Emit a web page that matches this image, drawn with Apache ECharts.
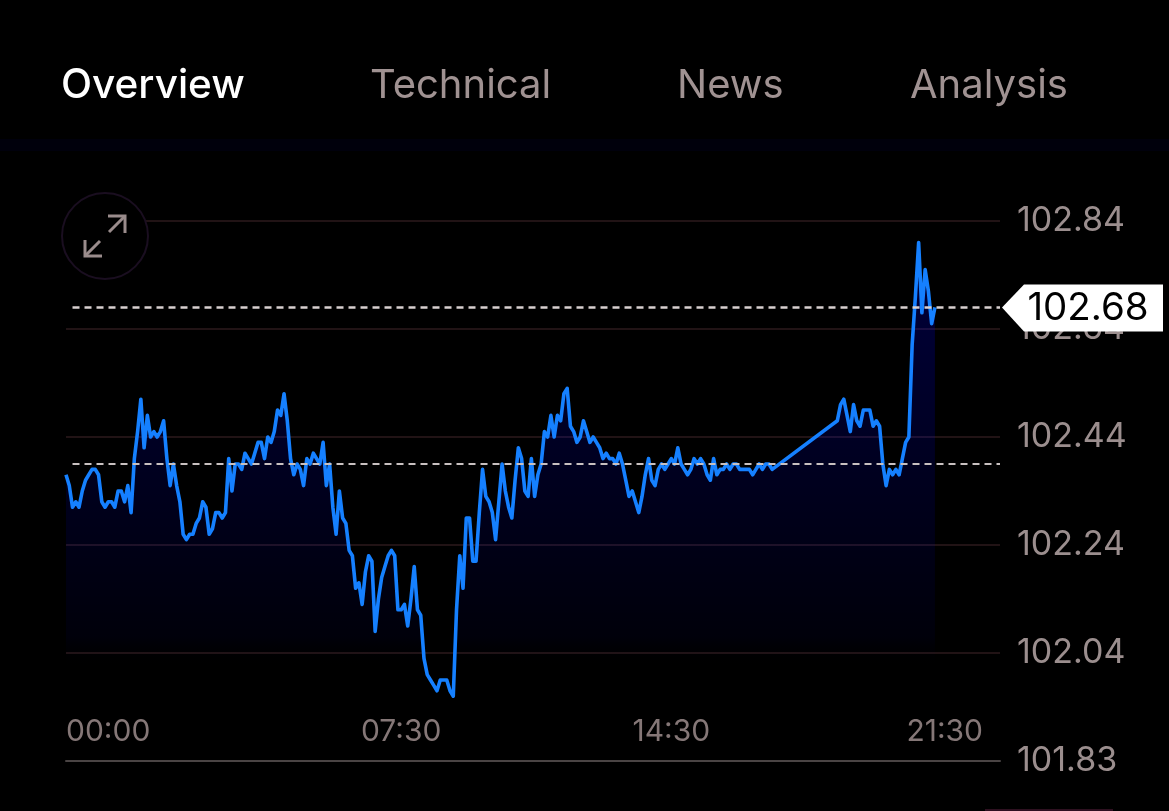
<!DOCTYPE html>
<html>
<head>
<meta charset="utf-8">
<title>Overview chart</title>
<script src="https://cdn.jsdelivr.net/npm/echarts@6/dist/echarts.min.js"></script>
<style>
html,body{margin:0;padding:0;background:#000;}
#main{width:1169px;height:811px;}
</style>
</head>
<body>
<div id="main"></div>
<script type="text/javascript">
var tabLabels = ['Overview', 'Technical', 'News', 'Analysis'];
var yTicks = [101.84, 102.04, 102.24, 102.44, 102.64, 102.84];
var yTickLabels = ['101.83', '102.04', '102.24', '102.44', '102.64', '102.84'];
var lastPrice = 102.68;
var prevClose = 102.39;

// prices before the quiet stretch where no quotes came in
var pricesEarly = [
  102.37,102.35,102.31,102.32,102.31,102.34,102.36,102.37,102.38,102.38,
  102.37,102.32,102.31,102.32,102.32,102.31,102.34,102.34,102.32,102.35,
  102.30,102.40,102.45,102.51,102.42,102.48,102.44,102.45,102.44,102.45,
  102.47,102.40,102.35,102.39,102.35,102.32,102.26,102.25,102.26,102.26,
  102.28,102.29,102.32,102.31,102.26,102.27,102.30,102.30,102.29,102.30,
  102.40,102.34,102.39,102.39,102.38,102.41,102.40,102.39,102.41,102.43,
  102.43,102.40,102.44,102.43,102.45,102.49,102.48,102.52,102.47,102.40,
  102.37,102.39,102.38,102.35,102.40,102.39,102.41,102.40,102.39,102.43,
  102.35,102.39,102.31,102.26,102.34,102.29,102.28,102.23,
  102.22,102.16,102.17,102.13,102.19,102.22,102.21,102.08,102.14,102.18,
  102.20,102.22,102.23,102.22,102.12,102.12,102.13,102.09,102.14,102.20,
  102.12,102.11,102.03,102.00,101.99,101.98,101.97,101.99,101.99,101.99,
  101.97,101.96,102.12,102.22,102.16,102.29,102.29,102.21,102.21,102.30,
  102.38,102.33,102.32,102.30,102.25,102.32,102.39,102.34,102.31,102.29,
  102.36,102.42,102.40,102.34,102.33,102.40,102.33,102.37,102.39,102.45,
  102.44,102.48,102.44,102.48,102.47,102.52,102.53,102.46,102.45,102.43,
  102.44,102.47,102.45,102.43,102.44,102.43,102.42,102.40,102.41,102.40,
  102.40,102.39,102.41,102.39,102.36,102.33,102.34,102.32,102.30,102.33,
  102.37,102.40,102.36,102.35,102.38,102.39,102.38,102.39,102.40,102.39,
  102.42,102.39,102.38,102.37,102.38,102.40,102.39,102.40,102.39,102.37,
  102.36,102.40,102.37,102.38,102.38,102.39,102.38,102.39,102.39,102.38,
  102.38,102.38,102.38,102.37,102.38,102.39,102.38,102.39,102.39,102.38
];
var gapSteps = 19;
var pricesLate = [
  102.47,102.50,102.51,102.48,102.45,102.50,102.47,102.46,102.49,102.49,
  102.49,102.46,102.47,102.46,102.39,102.35,102.38,102.37,102.38,102.37,
  102.40,102.43,102.44,102.61,102.70,102.80,102.67,102.75,102.71,102.65,
  102.68
];
var trailingSteps = 20;
var timeLabels = {0: '00:00', 103: '07:30', 186: '14:30', 270: '21:30'};

var prices = pricesEarly.concat(new Array(gapSteps).fill(null), pricesLate);
var categories = [];
for (var i = 0; i < prices.length + trailingSteps; i++) {
  categories.push(timeLabels[i] || '');
}
var seriesData = prices.concat(new Array(trailingSteps).fill(null));
var lastIdx = categories.length - 1;

var FONT = 'Inter';
var myChart = echarts.init(document.getElementById('main'));

var option = {
  backgroundColor: '#000',
  animation: false,
  grid: {left: 66, right: 169, top: 221, bottom: 50},
  xAxis: {
    type: 'category',
    boundaryGap: false,
    data: categories,
    axisLine: {show: true, lineStyle: {color: '#4a4444', width: 2}},
    axisTick: {show: false},
    splitLine: {show: false},
    axisLabel: {
      inside: true,
      margin: 14,
      interval: function (idx, val) { return val !== ''; },
      alignMinLabel: 'left',
      color: '#857777',
      fontFamily: FONT,
      fontSize: 30
    }
  },
  yAxis: {
    type: 'value',
    position: 'right',
    min: 101.84,
    max: 102.84,
    axisLine: {show: false},
    axisTick: {show: false, customValues: yTicks},
    splitLine: {show: true, lineStyle: {color: '#2c1a1c', width: 1.5}},
    axisLabel: {
      customValues: yTicks,
      margin: 17,
      padding: [0, 0, 4, 0],
      color: '#9b8e8e',
      fontFamily: FONT,
      fontSize: 34,
      formatter: function (v) { return yTickLabels[yTicks.indexOf(v)]; }
    }
  },
  series: [{
    type: 'line',
    data: seriesData,
    showSymbol: false,
    connectNulls: true,
    lineStyle: {color: '#1580ff', width: 3.6, join: 'round'},
    areaStyle: {
      color: new echarts.graphic.LinearGradient(0, 0, 0, 1, [
        {offset: 0, color: 'rgba(0,0,255,0.34)'},
        {offset: 0.76, color: 'rgba(0,0,255,0.06)'},
        {offset: 0.82, color: 'rgba(0,0,0,0)'}
      ])
    },
    markLine: {
      silent: true,
      symbol: 'none',
      animation: false,
      label: {show: false},
      data: [
        [{coord: [2, lastPrice], lineStyle: {color: '#d8d0d0', width: 2.5, type: [7, 5]}}, {coord: [lastIdx, lastPrice]}],
        [{coord: [2, prevClose], lineStyle: {color: '#c8c0c0', width: 2, type: [7, 5]}}, {coord: [lastIdx, prevClose]}]
      ]
    }
  }]
};
myChart.setOption(option);

// tabs, expand button and the price tag sit on top of the plot
var tabLeft = [61, 370, 677, 910];
var tabs = tabLabels.map(function (t, i) {
  return {
    type: 'text', x: tabLeft[i], y: 86, z: 10,
    style: {text: t, fontFamily: FONT, fontSize: i === 0 ? 40.5 : 40, fontWeight: i === 0 ? 500 : 400,
      fill: i === 0 ? '#ffffff' : '#a09292', textVerticalAlign: 'middle'}
  };
});
var iconStroke = {stroke: '#9a8c8c', lineWidth: 3, fill: null};
var tagY = myChart.convertToPixel({yAxisIndex: 0}, lastPrice);

myChart.setOption({
  graphic: tabs.concat([
    {type: 'rect', z: 1, shape: {x: 0, y: 139, width: 1169, height: 12}, style: {fill: '#00000c'}},
    {type: 'rect', z: 1, shape: {x: 985, y: 809, width: 128, height: 2}, style: {fill: '#2e1020'}},
    {type: 'circle', z: 10, shape: {cx: 105, cy: 236, r: 43}, style: {fill: '#000', stroke: '#1a0e20', lineWidth: 2}},
    {type: 'polyline', z: 11, shape: {points: [[108, 216], [125, 216], [125, 233]]}, style: iconStroke},
    {type: 'line', z: 11, shape: {x1: 125, y1: 216, x2: 109, y2: 232}, style: iconStroke},
    {type: 'polyline', z: 11, shape: {points: [[85, 240], [85, 256], [102, 256]]}, style: iconStroke},
    {type: 'line', z: 11, shape: {x1: 85, y1: 256, x2: 100, y2: 241}, style: iconStroke},
    {type: 'polygon', z: 12, shape: {points: [[1002, tagY], [1024, tagY - 23], [1163, tagY - 23], [1163, tagY + 24], [1024, tagY + 24]]}, style: {fill: '#fff'}},
    {type: 'text', z: 13, x: 1088, y: tagY + 1, style: {text: String(lastPrice), fontFamily: FONT, fontSize: 38.5, fill: '#000', textAlign: 'center', textVerticalAlign: 'middle'}}
  ])
});
</script>
</body>
</html>
